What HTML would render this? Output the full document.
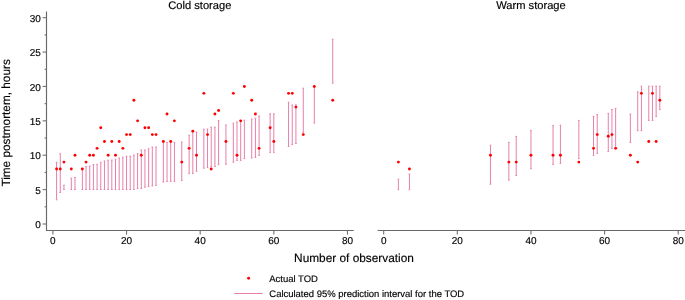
<!DOCTYPE html>
<html><head><meta charset="utf-8"><style>
html,body{margin:0;padding:0;background:#fff;}
body{width:685px;height:300px;overflow:hidden;}
svg{display:block;}
text{font-family:"Liberation Sans",sans-serif;text-rendering:geometricPrecision;fill:#000;stroke:#000;stroke-width:0.15px;}
</style></head><body>
<svg width="685" height="300" viewBox="0 0 685 300">
<rect width="685" height="300" fill="#fff"/>
<g font-size="11.15">
<text x="199.8" y="8.6" text-anchor="middle">Cold storage</text>
<text x="531" y="8.6" text-anchor="middle">Warm storage</text>
</g>
<g stroke="#686868" stroke-width="1.15" fill="none">
<path d="M46.5 11.5V230.5H353.8" /><path d="M377.6 230.5H685" />
</g>
<g stroke="#707070" stroke-width="1.1" fill="none">
<path d="M42.6 224H46.5"/><path d="M44.6 206.81H46.5"/><path d="M42.6 189.62H46.5"/><path d="M44.6 172.42H46.5"/><path d="M42.6 155.23H46.5"/><path d="M44.6 138.04H46.5"/><path d="M42.6 120.84H46.5"/><path d="M44.6 103.65H46.5"/><path d="M42.6 86.46H46.5"/><path d="M44.6 69.27H46.5"/><path d="M42.6 52.08H46.5"/><path d="M44.6 34.88H46.5"/><path d="M42.6 17.69H46.5"/><path d="M52.9 230.5V234.6"/><path d="M383.67 230.5V234.6"/><path d="M126.54 230.5V234.6"/><path d="M457.31 230.5V234.6"/><path d="M200.18 230.5V234.6"/><path d="M530.95 230.5V234.6"/><path d="M273.82 230.5V234.6"/><path d="M604.59 230.5V234.6"/><path d="M347.46 230.5V234.6"/><path d="M678.23 230.5V234.6"/>
</g>
<g font-size="10">
<text x="40.8" y="228.2" text-anchor="end">0</text><text x="40.8" y="193.81" text-anchor="end">5</text><text x="40.8" y="159.43" text-anchor="end">10</text><text x="40.8" y="125.05" text-anchor="end">15</text><text x="40.8" y="90.66" text-anchor="end">20</text><text x="40.8" y="56.28" text-anchor="end">25</text><text x="40.8" y="21.89" text-anchor="end">30</text>
<text x="52.9" y="244.2" text-anchor="middle">0</text><text x="383.67" y="244.2" text-anchor="middle">0</text><text x="126.54" y="244.2" text-anchor="middle">20</text><text x="457.31" y="244.2" text-anchor="middle">20</text><text x="200.18" y="244.2" text-anchor="middle">40</text><text x="530.95" y="244.2" text-anchor="middle">40</text><text x="273.82" y="244.2" text-anchor="middle">60</text><text x="604.59" y="244.2" text-anchor="middle">60</text><text x="347.46" y="244.2" text-anchor="middle">80</text><text x="678.23" y="244.2" text-anchor="middle">80</text>
</g>
<text font-size="11.8" transform="translate(9.8 122.9) rotate(-90)" text-anchor="middle">Time postmortem, hours</text>
<text font-size="11.85" x="354" y="262" text-anchor="middle">Number of observation</text>
<g stroke="#e680aa" stroke-width="1.0" fill="none">
<path d="M56.58 162.2V199.8M55.78 162.2h1.6M55.78 199.8h1.6"/><path d="M60.26 153.7V192.5M59.46 153.7h1.6M59.46 192.5h1.6"/><path d="M63.95 185.2V189.5M63.15 185.2h1.6M63.15 189.5h1.6"/><path d="M71.31 178.2V189.5M70.51 178.2h1.6M70.51 189.5h1.6"/><path d="M74.99 177.5V189.5M74.19 177.5h1.6M74.19 189.5h1.6"/><path d="M82.36 169V189.5M81.56 169h1.6M81.56 189.5h1.6"/><path d="M86.04 166.5V189.5M85.24 166.5h1.6M85.24 189.5h1.6"/><path d="M89.72 166V189.5M88.92 166h1.6M88.92 189.5h1.6"/><path d="M93.4 164.5V189.5M92.6 164.5h1.6M92.6 189.5h1.6"/><path d="M97.08 164.3V189.5M96.28 164.3h1.6M96.28 189.5h1.6"/><path d="M100.77 162.2V189.5M99.97 162.2h1.6M99.97 189.5h1.6"/><path d="M104.45 161V189.5M103.65 161h1.6M103.65 189.5h1.6"/><path d="M108.13 160.2V189.5M107.33 160.2h1.6M107.33 189.5h1.6"/><path d="M111.81 160V189.5M111.01 160h1.6M111.01 189.5h1.6"/><path d="M115.49 159.2V189.5M114.69 159.2h1.6M114.69 189.5h1.6"/><path d="M119.18 158V189.5M118.38 158h1.6M118.38 189.5h1.6"/><path d="M122.86 157.2V189.5M122.06 157.2h1.6M122.06 189.5h1.6"/><path d="M126.54 156.2V189.5M125.74 156.2h1.6M125.74 189.5h1.6"/><path d="M130.22 156.2V189.5M129.42 156.2h1.6M129.42 189.5h1.6"/><path d="M133.9 155V189.5M133.1 155h1.6M133.1 189.5h1.6"/><path d="M137.59 153.5V188.5M136.79 153.5h1.6M136.79 188.5h1.6"/><path d="M141.27 150V188.5M140.47 150h1.6M140.47 188.5h1.6"/><path d="M144.95 150V187.2M144.15 150h1.6M144.15 187.2h1.6"/><path d="M148.63 148.7V186.5M147.83 148.7h1.6M147.83 186.5h1.6"/><path d="M152.31 147.1V186M151.51 147.1h1.6M151.51 186h1.6"/><path d="M156 147V185.4M155.2 147h1.6M155.2 185.4h1.6"/><path d="M163.36 141.4V182M162.56 141.4h1.6M162.56 182h1.6"/><path d="M167.04 142.4V181.4M166.24 142.4h1.6M166.24 181.4h1.6"/><path d="M170.72 141.4V181.4M169.92 141.4h1.6M169.92 181.4h1.6"/><path d="M174.41 142.4V181.4M173.61 142.4h1.6M173.61 181.4h1.6"/><path d="M181.77 142V180.6M180.97 142h1.6M180.97 180.6h1.6"/><path d="M189.13 135.2V173.6M188.33 135.2h1.6M188.33 173.6h1.6"/><path d="M192.82 131V173.6M192.02 131h1.6M192.02 173.6h1.6"/><path d="M196.5 132V171.2M195.7 132h1.6M195.7 171.2h1.6"/><path d="M203.86 129.2V168.2M203.06 129.2h1.6M203.06 168.2h1.6"/><path d="M207.54 129V167.4M206.74 129h1.6M206.74 167.4h1.6"/><path d="M211.23 127.2V166.6M210.43 127.2h1.6M210.43 166.6h1.6"/><path d="M214.91 127.2V166.4M214.11 127.2h1.6M214.11 166.4h1.6"/><path d="M218.59 120.6V164.6M217.79 120.6h1.6M217.79 164.6h1.6"/><path d="M225.95 125V164.3M225.15 125h1.6M225.15 164.3h1.6"/><path d="M233.32 123.2V162.2M232.52 123.2h1.6M232.52 162.2h1.6"/><path d="M237 122V160.4M236.2 122h1.6M236.2 160.4h1.6"/><path d="M240.68 120.5V160.4M239.88 120.5h1.6M239.88 160.4h1.6"/><path d="M244.36 120.2V158.6M243.56 120.2h1.6M243.56 158.6h1.6"/><path d="M251.73 119V158M250.93 119h1.6M250.93 158h1.6"/><path d="M255.41 118.2V157.4M254.61 118.2h1.6M254.61 157.4h1.6"/><path d="M259.09 116V155.4M258.29 116h1.6M258.29 155.4h1.6"/><path d="M270.14 113.8V152.4M269.34 113.8h1.6M269.34 152.4h1.6"/><path d="M273.82 113.8V152.4M273.02 113.8h1.6M273.02 152.4h1.6"/><path d="M288.55 102.2V146.5M287.75 102.2h1.6M287.75 146.5h1.6"/><path d="M292.23 105V144.6M291.43 105h1.6M291.43 144.6h1.6"/><path d="M295.91 104.8V143.5M295.11 104.8h1.6M295.11 143.5h1.6"/><path d="M303.28 88.2V132.7M302.48 88.2h1.6M302.48 132.7h1.6"/><path d="M314.32 86.5V123M313.52 86.5h1.6M313.52 123h1.6"/><path d="M332.73 39.2V83.2M331.93 39.2h1.6M331.93 83.2h1.6"/><path d="M398.4 179.2V189.7M397.6 179.2h1.6M397.6 189.7h1.6"/><path d="M409.44 174V189.7M408.64 174h1.6M408.64 189.7h1.6"/><path d="M490.45 145.2V184.2M489.65 145.2h1.6M489.65 184.2h1.6"/><path d="M508.86 142.4V180.2M508.06 142.4h1.6M508.06 180.2h1.6"/><path d="M516.22 136.4V175.5M515.42 136.4h1.6M515.42 175.5h1.6"/><path d="M530.95 130.4V168.8M530.15 130.4h1.6M530.15 168.8h1.6"/><path d="M553.04 125.6V164.4M552.24 125.6h1.6M552.24 164.4h1.6"/><path d="M560.41 125.2V163.4M559.61 125.2h1.6M559.61 163.4h1.6"/><path d="M578.82 120.4V158.6M578.02 120.4h1.6M578.02 158.6h1.6"/><path d="M593.54 116.4V155.4M592.74 116.4h1.6M592.74 155.4h1.6"/><path d="M597.23 114.6V153.4M596.43 114.6h1.6M596.43 153.4h1.6"/><path d="M608.27 113.4V151.6M607.47 113.4h1.6M607.47 151.6h1.6"/><path d="M611.95 109.4V148.4M611.15 109.4h1.6M611.15 148.4h1.6"/><path d="M615.64 108.4V148.3M614.84 108.4h1.6M614.84 148.3h1.6"/><path d="M630.36 114V142.4M629.56 114h1.6M629.56 142.4h1.6"/><path d="M637.73 91.8V130.7M636.93 91.8h1.6M636.93 130.7h1.6"/><path d="M641.41 86.2V130.7M640.61 86.2h1.6M640.61 130.7h1.6"/><path d="M648.77 86.2V120.4M647.97 86.2h1.6M647.97 120.4h1.6"/><path d="M652.46 86.2V120.4M651.66 86.2h1.6M651.66 120.4h1.6"/><path d="M656.14 86.2V116.4M655.34 86.2h1.6M655.34 116.4h1.6"/><path d="M659.82 86.2V109.6M659.02 86.2h1.6M659.02 109.6h1.6"/>
</g>
<g fill="#ff0000">
<circle cx="56.58" cy="168.98" r="1.45"/><circle cx="60.26" cy="168.98" r="1.45"/><circle cx="63.95" cy="162.11" r="1.45"/><circle cx="71.31" cy="168.98" r="1.45"/><circle cx="74.99" cy="155.23" r="1.45"/><circle cx="82.36" cy="168.98" r="1.45"/><circle cx="86.04" cy="162.11" r="1.45"/><circle cx="89.72" cy="155.23" r="1.45"/><circle cx="93.4" cy="155.23" r="1.45"/><circle cx="97.08" cy="148.35" r="1.45"/><circle cx="100.77" cy="127.72" r="1.45"/><circle cx="104.45" cy="141.48" r="1.45"/><circle cx="108.13" cy="155.23" r="1.45"/><circle cx="111.81" cy="141.48" r="1.45"/><circle cx="115.49" cy="155.23" r="1.45"/><circle cx="119.18" cy="141.48" r="1.45"/><circle cx="122.86" cy="148.35" r="1.45"/><circle cx="126.54" cy="134.6" r="1.45"/><circle cx="130.22" cy="134.6" r="1.45"/><circle cx="133.9" cy="100.21" r="1.45"/><circle cx="137.59" cy="120.84" r="1.45"/><circle cx="141.27" cy="155.23" r="1.45"/><circle cx="144.95" cy="127.72" r="1.45"/><circle cx="148.63" cy="127.72" r="1.45"/><circle cx="152.31" cy="134.6" r="1.45"/><circle cx="156" cy="134.6" r="1.45"/><circle cx="163.36" cy="141.48" r="1.45"/><circle cx="167.04" cy="113.97" r="1.45"/><circle cx="170.72" cy="141.48" r="1.45"/><circle cx="174.41" cy="120.84" r="1.45"/><circle cx="181.77" cy="162.11" r="1.45"/><circle cx="189.13" cy="148.35" r="1.45"/><circle cx="192.82" cy="131.16" r="1.45"/><circle cx="196.5" cy="155.23" r="1.45"/><circle cx="203.86" cy="93.34" r="1.45"/><circle cx="207.54" cy="134.6" r="1.45"/><circle cx="211.23" cy="168.98" r="1.45"/><circle cx="214.91" cy="113.97" r="1.45"/><circle cx="218.59" cy="110.53" r="1.45"/><circle cx="225.95" cy="141.48" r="1.45"/><circle cx="233.32" cy="93.34" r="1.45"/><circle cx="237" cy="155.23" r="1.45"/><circle cx="240.68" cy="120.84" r="1.45"/><circle cx="244.36" cy="86.46" r="1.45"/><circle cx="251.73" cy="100.21" r="1.45"/><circle cx="255.41" cy="113.97" r="1.45"/><circle cx="259.09" cy="148.35" r="1.45"/><circle cx="270.14" cy="127.72" r="1.45"/><circle cx="273.82" cy="141.48" r="1.45"/><circle cx="288.55" cy="93.34" r="1.45"/><circle cx="292.23" cy="93.34" r="1.45"/><circle cx="295.91" cy="107.09" r="1.45"/><circle cx="303.28" cy="134.6" r="1.45"/><circle cx="314.32" cy="86.46" r="1.45"/><circle cx="332.73" cy="100.21" r="1.45"/><circle cx="398.4" cy="162.11" r="1.45"/><circle cx="409.44" cy="168.98" r="1.45"/><circle cx="490.45" cy="155.23" r="1.45"/><circle cx="508.86" cy="162.11" r="1.45"/><circle cx="516.22" cy="162.11" r="1.45"/><circle cx="530.95" cy="155.23" r="1.45"/><circle cx="553.04" cy="155.23" r="1.45"/><circle cx="560.41" cy="155.23" r="1.45"/><circle cx="578.82" cy="162.11" r="1.45"/><circle cx="593.54" cy="148.35" r="1.45"/><circle cx="597.23" cy="134.6" r="1.45"/><circle cx="608.27" cy="136.32" r="1.45"/><circle cx="611.95" cy="134.6" r="1.45"/><circle cx="615.64" cy="148.35" r="1.45"/><circle cx="630.36" cy="155.23" r="1.45"/><circle cx="637.73" cy="162.11" r="1.45"/><circle cx="641.41" cy="93.34" r="1.45"/><circle cx="648.77" cy="141.48" r="1.45"/><circle cx="652.46" cy="93.34" r="1.45"/><circle cx="656.14" cy="141.48" r="1.45"/><circle cx="659.82" cy="100.21" r="1.45"/>
</g>
<circle cx="248.6" cy="278.2" r="1.45" fill="#ff0000"/>
<path d="M234.3 293.5H262.7" stroke="#e680aa" stroke-width="1.0"/>
<g font-size="9.48">
<text x="269.3" y="281.6">Actual TOD</text>
<text x="269.3" y="296.6">Calculated 95% prediction interval for the TOD</text>
</g>
</svg>
</body></html>
